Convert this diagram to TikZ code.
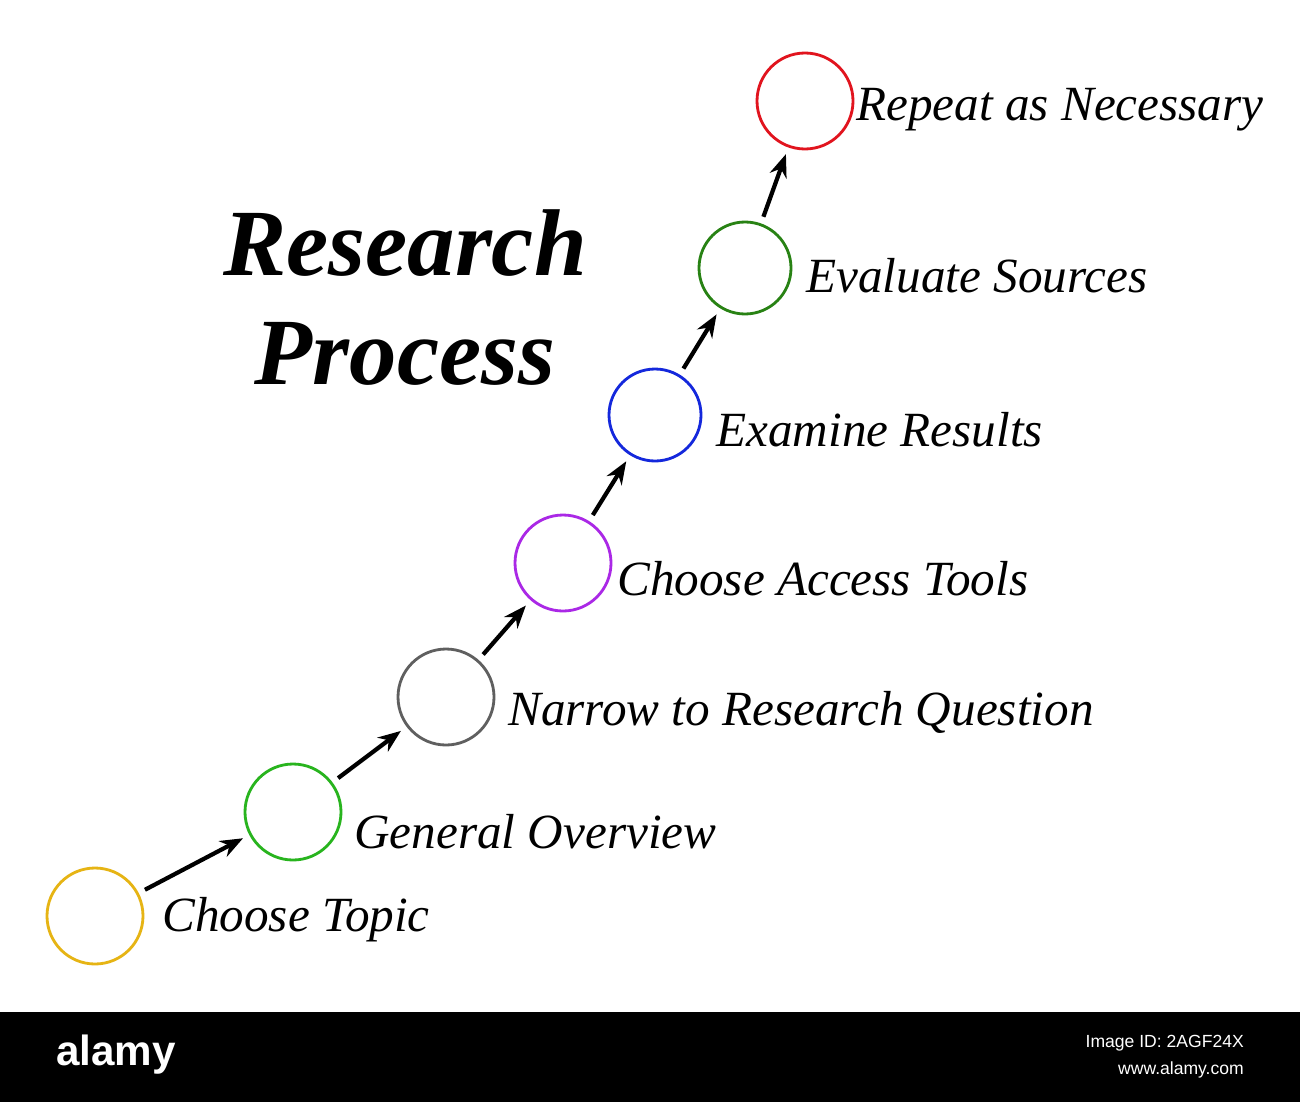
\documentclass[tikz,border=0pt]{standalone}
\usepackage{fontspec}
\setmainfont{Liberation Serif}
\newfontfamily\wmfont{Liberation Sans}
\usetikzlibrary{arrows.meta}
\begin{document}
\begin{tikzpicture}[x=0.02cm,y=-0.02cm,
  circ/.style={circle,draw,line width=1.6pt,minimum size=96*0.02cm,inner sep=0pt},
  lab/.style={anchor=west,inner sep=0pt,font=\fontsize{28}{32}\selectfont\itshape},
  arr/.style={-{Stealth[length=13pt,width=10pt]},line width=2.4pt,shorten <=4pt,shorten >=4pt}]
\useasboundingbox (0,0) rectangle (1300,1102);
\fill[white] (0,0) rectangle (1300,1012);
\node[circ,draw={rgb,255:red,230;green,180;blue,20}] (c1) at (95,916) {};
\node[circ,draw={rgb,255:red,40;green,180;blue,30}] (c2) at (293,812) {};
\node[circ,draw={rgb,255:red,95;green,95;blue,95}] (c3) at (446,697) {};
\node[circ,draw={rgb,255:red,170;green,40;blue,230}] (c4) at (563,563) {};
\node[circ,draw={rgb,255:red,20;green,40;blue,220},minimum size=92*0.02cm] (c5) at (655,415) {};
\node[circ,draw={rgb,255:red,40;green,130;blue,20},minimum size=92*0.02cm] (c6) at (745,268) {};
\node[circ,draw={rgb,255:red,225;green,20;blue,30}] (c7) at (805,101) {};
\node[lab] (l1) at (162,920) {Choose Topic};
\node[lab] (l2) at (354,832) {General Overview};
\node[lab] (l3) at (508,712) {Narrow to Research Question};
\node[lab] (l4) at (617,579) {Choose Access Tools};
\node[lab] (l5) at (716,430) {Examine Results};
\node[lab] (l6) at (806,276) {Evaluate Sources};
\node[lab] (l7) at (856,110) {Repeat as Necessary};
\node[font=\fontsize{54}{62}\selectfont\bfseries\itshape,align=center] (title) at (405,298) {Research\\Process};
\draw[arr] (c1) -- (c2);
\draw[arr] (c2) -- (c3);
\draw[arr] (c3) -- (c4);
\draw[arr] (c4) -- (c5);
\draw[arr] (c5) -- (c6);
\draw[arr] (c6) -- (c7);
\fill[black] (0,1012) rectangle (1300,1102);
\node[white,anchor=west,font=\wmfont\bfseries\fontsize{24}{28}\selectfont] (wm) at (50,1055) {alamy};
\node[white,anchor=east,font=\wmfont\fontsize{10}{12}\selectfont] (id) at (1250,1043) {Image ID: 2AGF24X};
\node[white,anchor=east,font=\wmfont\fontsize{10}{12}\selectfont] (www) at (1250,1070) {www.alamy.com};
\end{tikzpicture}
\end{document}
